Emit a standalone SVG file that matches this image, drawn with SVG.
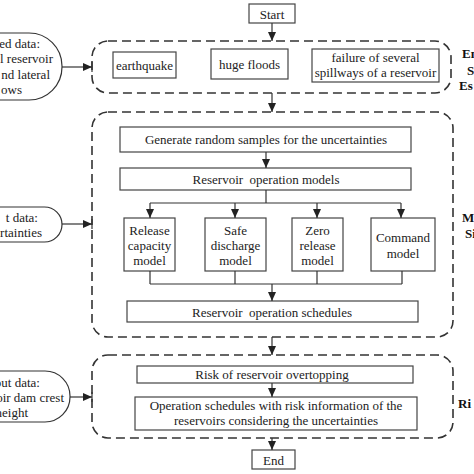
<svg xmlns="http://www.w3.org/2000/svg" width="474" height="474" viewBox="0 0 474 474">
<defs>
<marker id="ah" markerWidth="10" markerHeight="10" refX="9" refY="5" orient="auto" markerUnits="userSpaceOnUse">
<path d="M0,1 L9,5 L0,9 Z" fill="#222"/>
</marker>
<style>
.box{fill:#fff;stroke:#444;stroke-width:1.2}
.dash{fill:none;stroke:#333;stroke-width:1.6;stroke-dasharray:9,5}
.oval{fill:#fff;stroke:#333;stroke-width:1.2}
.t{font-family:"Liberation Serif","Times New Roman",serif;font-size:13px;fill:#222;text-anchor:middle}
.tl{font-family:"Liberation Serif","Times New Roman",serif;font-size:13px;fill:#222;text-anchor:end}
.lab{font-family:"Liberation Serif","Times New Roman",serif;font-size:13px;font-weight:bold;fill:#111}
.ln{fill:none;stroke:#333;stroke-width:1.2}
</style>
</defs>
<rect width="474" height="474" fill="#fff"/>

<g id="stage-emergency">
<rect class="dash" x="92" y="41" width="359" height="52" rx="16"/>
<text class="lab" x="462" y="58">En</text>
<text class="lab" x="467" y="75">S</text>
<text class="lab" x="459" y="90">Es</text>
</g>
<g id="stage-model">
<rect class="dash" x="92" y="112" width="361" height="225" rx="16"/>
<text class="lab" x="462" y="222">M</text>
<text class="lab" x="465" y="238">Si</text>
</g>
<g id="stage-risk">
<rect class="dash" x="92" y="355" width="361" height="83" rx="16"/>
<text class="lab" x="458" y="408">Ri</text>
</g>

<g id="start"><rect class="box" x="249" y="4" width="46" height="19"/><text class="t" x="272" y="18.5">Start</text></g>
<g id="earthquake"><rect class="box" x="113" y="52" width="63" height="26"/><text class="t" x="144.5" y="69.5">earthquake</text></g>
<g id="floods"><rect class="box" x="211" y="49" width="77" height="30"/><text class="t" x="249.5" y="68.5">huge floods</text></g>
<g id="failure"><rect class="box" x="312" y="49" width="127" height="33"/><text class="t" x="375.5" y="62">failure of several</text><text class="t" x="375.5" y="77">spillways of a reservoir</text></g>

<g id="input1"><rect class="oval" x="-70" y="33" width="132" height="67" rx="33"/>
<text class="tl" x="40" y="47.5">ed data:</text><text class="tl" x="53" y="63">l reservoir</text><text class="tl" x="50" y="78.5">nd lateral</text><text class="tl" x="22" y="94">ows</text></g>
<g id="input2"><rect class="oval" x="-40" y="207" width="102" height="35" rx="17.5"/>
<text class="tl" x="38" y="221.5">t data:</text><text class="tl" x="42" y="236.5">rtainties</text></g>
<g id="output"><rect class="oval" x="-50" y="371" width="120" height="51" rx="25"/>
<text class="tl" x="40" y="386.5">out data:</text><text class="tl" x="64" y="401.5">oir dam crest</text><text class="tl" x="28" y="416.5">height</text></g>

<g id="generate"><rect class="box" x="120" y="127" width="291" height="25"/><text class="t" x="266" y="143.5">Generate random samples for the uncertainties</text></g>
<g id="models"><rect class="box" x="120" y="168" width="291" height="22"/><text class="t" x="266" y="184" xml:space="preserve">Reservoir  operation models</text></g>
<g id="release"><rect class="box" x="124" y="218" width="51" height="53"/><text class="t" x="149.5" y="234.5">Release</text><text class="t" x="149.5" y="249.5">capacity</text><text class="t" x="149.5" y="265">model</text></g>
<g id="safe"><rect class="box" x="205" y="218" width="61" height="53"/><text class="t" x="235.5" y="234.5">Safe</text><text class="t" x="235.5" y="249.5">discharge</text><text class="t" x="235.5" y="265">model</text></g>
<g id="zero"><rect class="box" x="292" y="218" width="51" height="53"/><text class="t" x="317.5" y="234.5">Zero</text><text class="t" x="317.5" y="249.5">release</text><text class="t" x="317.5" y="265">model</text></g>
<g id="command"><rect class="box" x="371" y="218" width="64" height="53"/><text class="t" x="403" y="241.5">Command</text><text class="t" x="403" y="257.5">model</text></g>
<g id="schedules"><rect class="box" x="127" y="301" width="291" height="21"/><text class="t" x="272" y="316.5" xml:space="preserve">Reservoir  operation schedules</text></g>
<g id="risk"><rect class="box" x="137" y="366" width="276" height="17"/><text class="t" x="272" y="378.5">Risk of reservoir overtopping</text></g>
<g id="opsched"><rect class="box" x="135" y="397" width="282" height="33"/><text class="t" x="276" y="409.5">Operation schedules with risk information of the</text><text class="t" x="276" y="424.5">reservoirs considering the uncertainties</text></g>
<g id="end"><rect class="box" x="252" y="450" width="43" height="19"/><text class="t" x="273.5" y="464.5">End</text></g>

<g id="connectors">
<line class="ln" x1="272" y1="23" x2="272" y2="41" marker-end="url(#ah)"/>
<line class="ln" x1="62" y1="67" x2="92" y2="67" marker-end="url(#ah)"/>
<line class="ln" x1="92" y1="62" x2="92" y2="72"/>
<line class="ln" x1="272" y1="93" x2="272" y2="112" marker-end="url(#ah)"/>
<line class="ln" x1="62" y1="224" x2="92" y2="224" marker-end="url(#ah)"/>
<line class="ln" x1="92" y1="219" x2="92" y2="229"/>
<line class="ln" x1="266" y1="152" x2="266" y2="168" marker-end="url(#ah)"/>
<path class="ln" d="M266,190 V203 M150,203 H401"/>
<line class="ln" x1="150" y1="203" x2="150" y2="218" marker-end="url(#ah)"/>
<line class="ln" x1="235" y1="203" x2="235" y2="218" marker-end="url(#ah)"/>
<line class="ln" x1="317" y1="203" x2="317" y2="218" marker-end="url(#ah)"/>
<line class="ln" x1="401" y1="203" x2="401" y2="218" marker-end="url(#ah)"/>
<path class="ln" d="M150,271 V284 M235,271 V284 M317,271 V284 M402,271 V284 M150,284 H402"/>
<line class="ln" x1="272" y1="284" x2="272" y2="301" marker-end="url(#ah)"/>
<line class="ln" x1="272" y1="337" x2="272" y2="355" marker-end="url(#ah)"/>
<line class="ln" x1="70" y1="397" x2="92" y2="397" marker-end="url(#ah)"/>
<line class="ln" x1="92" y1="392" x2="92" y2="402"/>
<line class="ln" x1="272" y1="383" x2="272" y2="397" marker-end="url(#ah)"/>
<line class="ln" x1="272" y1="438" x2="272" y2="450" marker-end="url(#ah)"/>
</g>
</svg>
